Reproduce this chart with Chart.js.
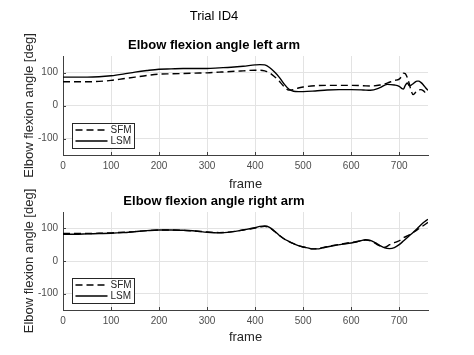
<!DOCTYPE html>
<html>
<head>
<meta charset="utf-8">
<script src="https://cdn.jsdelivr.net/npm/chart.js@4.4.1/dist/chart.umd.min.js"></script>
<style>
    body { margin: 0; background: #fff; }
    #wrap { position: relative; width: 474px; height: 355px; }
    canvas { position: absolute; left: 0; }
    #top { top: 0; }
    #bottom { top: 180px; }
</style>
</head>
<body>
<div id="wrap">
    <canvas id="top" width="474" height="192"></canvas>
    <canvas id="bottom" width="474" height="175"></canvas>
</div>
<script>
// Tick values shared by both subplots
const xTicks = [0, 100, 200, 300, 400, 500, 600, 700];
const yTicks = [-100, 0, 100];

// Left arm
const leftFrames = [0, 25, 50, 75, 100, 125, 150, 175, 200, 225, 250, 275, 300, 325, 350, 375, 400, 410, 420, 430, 440, 450, 460, 470, 480, 490, 500, 525, 550, 575, 600, 625, 640, 660, 675, 690, 700, 705, 709, 713, 717, 721, 725, 729, 733, 737, 741, 745, 750, 755, 760];
const leftSfm = [72, 72, 72, 73, 76, 81, 86, 91, 95, 96, 97, 98, 99, 101, 103, 105, 107, 107, 105, 99, 88, 74, 58, 47, 48, 53, 56, 60, 61, 61, 61, 60, 59, 62, 68, 76, 80, 88, 98, 96, 84, 66, 44, 33, 38, 45, 47, 48, 45, 38, 31];
const leftLsm = [86, 86, 86, 87, 90, 95, 101, 106, 110, 111, 112, 112, 112, 114, 116, 119, 123, 124, 123, 115, 102, 86, 66, 50, 43, 42, 42, 44, 47, 48, 48, 47, 46, 54, 64, 62, 58, 52, 50, 62, 68, 60, 62, 66, 71, 74, 74, 70, 63, 54, 46];

// Right arm
const rightFrames = [0, 25, 50, 75, 100, 125, 150, 175, 200, 225, 250, 275, 300, 325, 350, 375, 400, 410, 420, 430, 440, 450, 460, 470, 480, 490, 500, 510, 520, 530, 540, 560, 580, 600, 610, 620, 630, 640, 650, 660, 670, 680, 690, 700, 710, 720, 730, 740, 750, 760];
const rightSfm = [84, 84, 84, 85, 86, 88, 90, 93, 95, 95, 94, 92, 89, 87, 89, 95, 101, 104, 106, 102, 91, 79, 68, 60, 53, 47, 43, 40, 37, 38, 41, 47, 52, 57, 59, 62, 64, 62, 54, 46, 42, 50, 56, 62, 72, 79, 88, 98, 108, 118];
const rightLsm = [82, 82, 83, 84, 85, 87, 90, 93, 95, 95, 94, 92, 88, 86, 89, 95, 102, 106, 107, 103, 92, 79, 68, 60, 53, 47, 43, 40, 37, 37, 40, 46, 51, 55, 58, 62, 65, 63, 56, 47, 40, 38, 41, 50, 63, 76, 89, 103, 117, 128];

const FONT = 'Liberation Sans, Arial, Helvetica, sans-serif';
const AXIS = '#404040';

function toPoints(xs, ys) {
    return xs.map((x, i) => ({ x: x, y: ys[i] }));
}

// legend box in lower left of the plot area + MATLAB style inner ticks
const matlabExtras = {
    id: 'matlabExtras',
    afterDatasetsDraw(chart) {
        const ctx = chart.ctx;
        const area = chart.chartArea;
        const xs = chart.scales.x;
        const ys = chart.scales.y;

        ctx.save();
        ctx.strokeStyle = AXIS;
        ctx.lineWidth = 1;
        ctx.beginPath();
        xs.ticks.forEach(t => {
            const px = Math.round(xs.getPixelForValue(t.value)) + 0.5;
            ctx.moveTo(px, area.bottom);
            ctx.lineTo(px, area.bottom - 3);
        });
        ys.ticks.forEach(t => {
            const py = Math.round(ys.getPixelForValue(t.value)) + 0.5;
            ctx.moveTo(area.left, py);
            ctx.lineTo(area.left + 3, py);
        });
        ctx.stroke();

        // legend
        const bx = Math.round(area.left) + 9.5;
        const by = Math.round(area.bottom) - 31.5;
        const bw = 62;
        const bh = 25;
        ctx.fillStyle = '#fff';
        ctx.fillRect(bx, by, bw, bh);
        ctx.strokeStyle = '#262626';
        ctx.strokeRect(bx, by, bw, bh);

        ctx.font = '10px ' + FONT;
        ctx.textBaseline = 'middle';
        ctx.textAlign = 'left';
        chart.data.datasets.forEach((ds, i) => {
            const ly = by + 6.5 + i * 11;
            ctx.strokeStyle = ds.borderColor;
            ctx.lineWidth = ds.borderWidth;
            ctx.setLineDash(ds.borderDash || []);
            ctx.beginPath();
            ctx.moveTo(bx + 3, ly);
            ctx.lineTo(bx + 35, ly);
            ctx.stroke();
            ctx.setLineDash([]);
            ctx.fillStyle = '#262626';
            ctx.fillText(ds.label, bx + 38, ly + 0.5);
        });
        ctx.restore();
    }
};

function makeChart(canvasId, frames, sfm, lsm, opts) {
    const plugins = {
        legend: { display: false },
        tooltip: { enabled: false },
        title: {
            display: true,
            text: opts.title,
            color: '#000',
            font: { family: FONT, size: 13, weight: opts.titleBold ? 'bold' : 'normal' },
            padding: opts.titlePadding
        }
    };
    if (opts.subtitle) {
        plugins.subtitle = {
            display: true,
            text: opts.subtitle,
            color: '#000',
            font: { family: FONT, size: 13, weight: 'bold' },
            padding: opts.subtitlePadding
        };
    }

    return new Chart(document.getElementById(canvasId), {
        type: 'line',
        data: {
            datasets: [
                {
                    label: 'SFM',
                    data: toPoints(frames, sfm),
                    borderColor: '#000',
                    borderWidth: 1.4,
                    borderDash: [7, 4],
                    pointRadius: 0,
                    fill: false,
                    cubicInterpolationMode: 'monotone'
                },
                {
                    label: 'LSM',
                    data: toPoints(frames, lsm),
                    borderColor: '#000',
                    borderWidth: 1.4,
                    pointRadius: 0,
                    fill: false,
                    cubicInterpolationMode: 'monotone'
                }
            ]
        },
        options: {
            responsive: false,
            animation: false,
            layout: { padding: { left: 0, right: 46, top: 0, bottom: 0 } },
            plugins: plugins,
            scales: {
                x: {
                    type: 'linear',
                    min: 0,
                    max: 760,
                    afterBuildTicks: s => { s.ticks = xTicks.map(v => ({ value: v })); },
                    afterFit: s => { s.height = opts.xHeight; },
                    ticks: { color: '#4d4d4d', font: { family: FONT, size: 10 }, padding: 5, maxRotation: 0 },
                    grid: { color: '#e3e3e3', drawTicks: false },
                    border: { display: true, color: AXIS, width: 1 },
                    title: {
                        display: true,
                        text: 'frame',
                        color: '#262626',
                        font: { family: FONT, size: 13 },
                        padding: { top: 0, bottom: opts.frameBottom }
                    }
                },
                y: {
                    min: -150,
                    max: 150,
                    afterBuildTicks: s => { s.ticks = yTicks.map(v => ({ value: v })); },
                    afterFit: s => { s.width = 63; },
                    ticks: { color: '#4d4d4d', font: { family: FONT, size: 10 }, padding: 5 },
                    grid: { color: '#e3e3e3', drawTicks: false },
                    border: { display: true, color: AXIS, width: 1 },
                    title: {
                        display: true,
                        text: 'Elbow flexion angle [deg]',
                        color: '#262626',
                        font: { family: FONT, size: 13 },
                        padding: { top: 22, bottom: 0 }
                    }
                }
            }
        },
        plugins: [matlabExtras]
    });
}

makeChart('top', leftFrames, leftSfm, leftLsm, {
    title: 'Trial ID4',
    titleBold: false,
    titlePadding: { top: 9, bottom: 0 },
    subtitle: 'Elbow flexion angle left arm',
    subtitlePadding: { top: 12.6, bottom: 3.2 },
    xHeight: 37,
    frameBottom: 0
});

makeChart('bottom', rightFrames, rightSfm, rightLsm, {
    title: 'Elbow flexion angle right arm',
    titleBold: true,
    titlePadding: { top: 13.2, bottom: 3.2 },
    xHeight: 45,
    frameBottom: 10
});
</script>
</body>
</html>
